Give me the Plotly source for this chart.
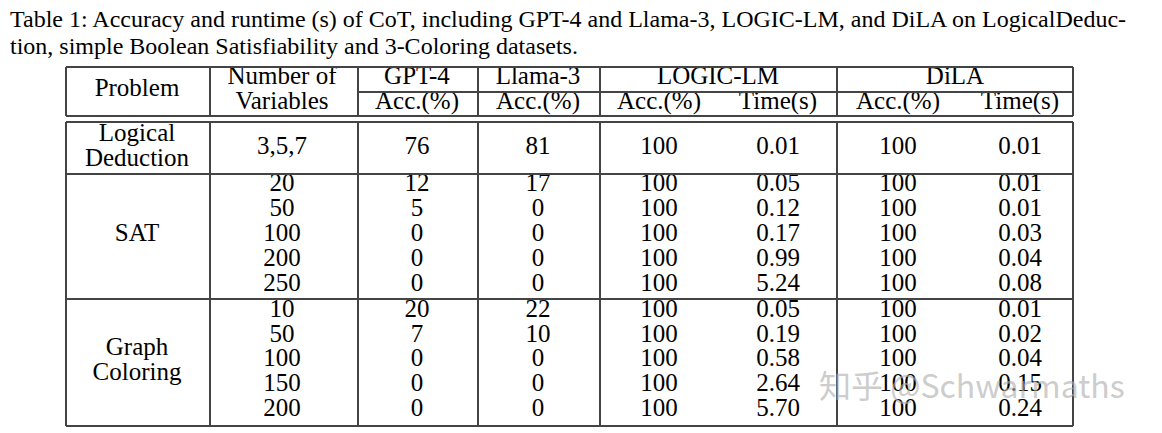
import plotly.graph_objects as go

problems = ["Logical", "Deduction", "SAT", "Graph", "Coloring"]
problem_y = [135, 160, 235, 349, 374]
num_vars = ["3,5,7", "20", "50", "100", "200", "250", "10", "50", "100", "150", "200"]
gpt4_acc = ["76", "12", "5", "0", "0", "0", "20", "7", "0", "0", "0"]
llama3_acc = ["81", "17", "0", "0", "0", "0", "22", "10", "0", "0", "0"]
logiclm_acc = ["100"] * 11
logiclm_time = ["0.01", "0.05", "0.12", "0.17", "0.99", "5.24", "0.05", "0.19", "0.58", "2.64", "5.70"]
dila_acc = ["100"] * 11
dila_time = ["0.01", "0.01", "0.01", "0.03", "0.04", "0.08", "0.01", "0.02", "0.04", "0.15", "0.24"]

FONT = "Liberation Serif, Times New Roman, serif"
FS = 25
row_y = [148, 185, 210, 235, 260, 285, 311, 336, 360, 385, 410]
col_x = [282, 417, 538, 659, 778, 898, 1020]
cols = [num_vars, gpt4_acc, llama3_acc, logiclm_acc, logiclm_time, dila_acc, dila_time]

fig = go.Figure()
for x, vals in zip(col_x, cols):
    fig.add_trace(go.Scatter(x=[x] * len(vals), y=row_y, text=vals, mode="text",
                             textfont=dict(family=FONT, size=FS, color="black"),
                             hoverinfo="skip", showlegend=False))
fig.add_trace(go.Scatter(x=[137] * len(problems), y=problem_y, text=problems, mode="text",
                         textfont=dict(family=FONT, size=FS, color="black"),
                         hoverinfo="skip", showlegend=False))

hdr_txt = ["Problem", "Number of", "Variables", "GPT-4", "Llama-3", "LOGIC-LM", "DiLA",
           "Acc.(%)", "Acc.(%)", "Acc.(%)", "Time(s)", "Acc.(%)", "Time(s)"]
hdr_x = [137, 282, 282, 417, 538, 718, 955, 417, 538, 659, 778, 898, 1020]
hdr_y = [90, 78, 103, 78, 78, 78, 78, 103, 103, 103, 103, 103, 103]
fig.add_trace(go.Scatter(x=hdr_x, y=hdr_y, text=hdr_txt, mode="text",
                         textfont=dict(family=FONT, size=FS, color="black"),
                         hoverinfo="skip", showlegend=False))

lc = "#444"
shapes = []
def hl(y, x0=66, x1=1073):
    shapes.append(dict(type="line", x0=x0, x1=x1, y0=y, y1=y, line=dict(color=lc, width=2)))
def vl(x, y0, y1):
    shapes.append(dict(type="line", x0=x, x1=x, y0=y0, y1=y1, line=dict(color=lc, width=2)))
for y in [67, 116, 122, 174, 299, 426]:
    hl(y)
hl(92, 358, 1073)
for x in [66, 210, 358, 478, 600, 837, 1073]:
    vl(x, 67, 116)
    vl(x, 122, 426)

W, H = 1146, 420
fig.update_layout(
    width=W, height=H, margin=dict(l=0, r=0, t=0, b=0),
    paper_bgcolor="white", plot_bgcolor="white", shapes=shapes,
    xaxis=dict(range=[8, 8 + W], visible=False, fixedrange=True),
    yaxis=dict(range=[8 + H, 8], visible=False, fixedrange=True),
    annotations=[
        dict(x=0, y=1 - (19 - 8) / H, xref="paper", yref="paper", xanchor="left",
             yanchor="middle", showarrow=False,
             text="Table 1: Accuracy and runtime (s) of CoT, including GPT-4 and Llama-3, LOGIC-LM, and DiLA on LogicalDeduc-",
             font=dict(family=FONT, size=24, color="black")),
        dict(x=0, y=1 - (46 - 8) / H, xref="paper", yref="paper", xanchor="left",
             yanchor="middle", showarrow=False,
             text="tion, simple Boolean Satisfiability and 3-Coloring datasets.",
             font=dict(family=FONT, size=24, color="black")),
        dict(x=972, y=384, xref="x", yref="y", xanchor="center", yanchor="middle", showarrow=False,
             text="知乎 @Schwarmaths",
             font=dict(family="Noto Sans CJK SC, sans-serif", size=32, color="rgba(175,175,175,0.65)")),
    ],
)
fig.write_html("out.html")
